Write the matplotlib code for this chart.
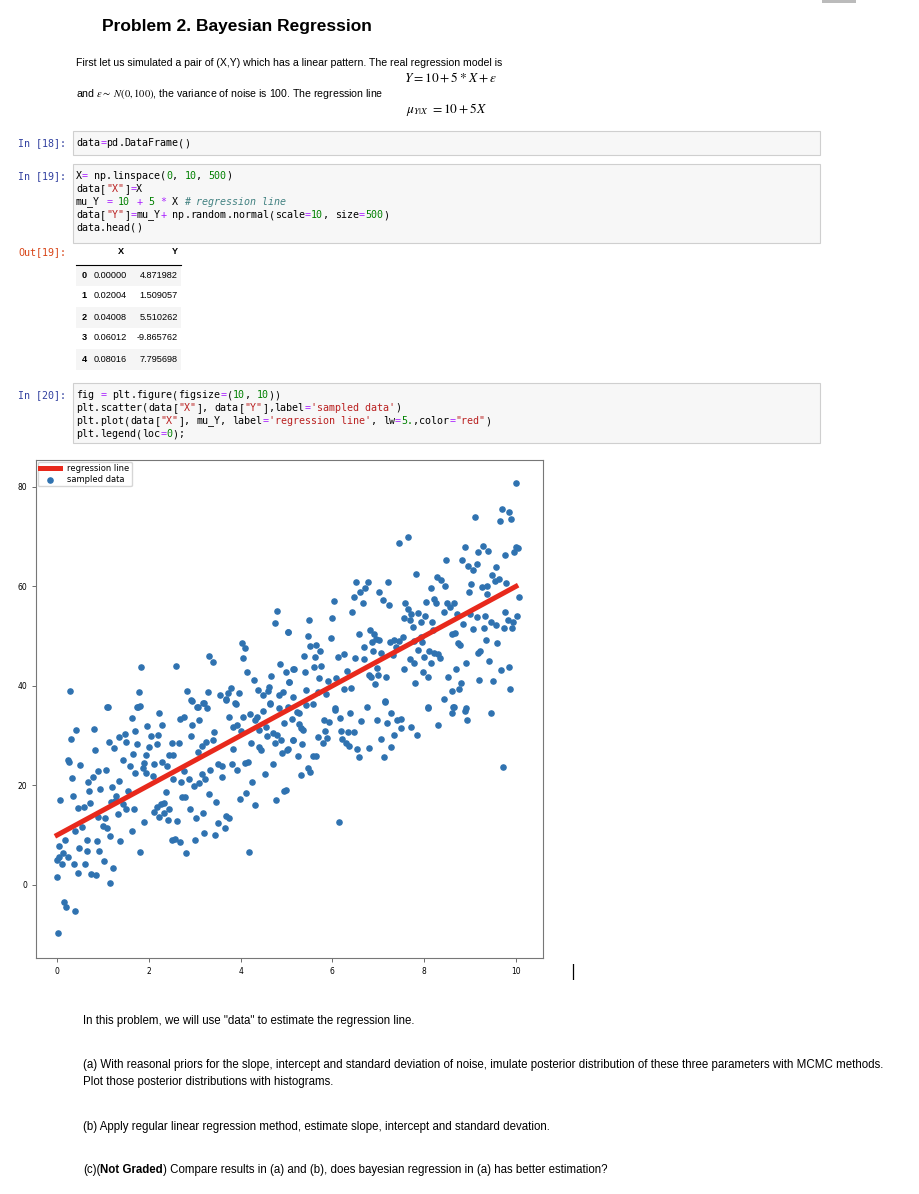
import re
import matplotlib
matplotlib.use('Agg')
import matplotlib.pyplot as plt
from matplotlib.patches import Rectangle

# scatter points (x, y)
pts_x = [0.02, 0.15, 0.2, 0.39, 0.0, 0.0, 0.05, 0.1, 0.05, 0.13, 0.24, 0.17, 0.37, 0.46, 0.61, 1.15, 1.22, 0.74, 0.85,
         1.02, 0.92, 0.65, 0.48, 0.65, 0.87, 1.15, 1.37, 1.8, 1.63, 0.39, 0.55, 0.07, 0.35, 0.46, 0.59, 0.33, 0.5, 0.24,
         0.26, 0.3, 0.41, 0.81, 0.83, 0.68, 0.7, 0.78, 0.89, 1.07, 0.94, 0.72, 0.89, 1.05, 1.0, 1.09, 1.33, 1.11, 1.13,
         1.24, 1.35, 1.48, 1.5, 1.44, 1.35, 1.2, 1.29, 1.18, 1.26, 1.44, 1.5, 1.68, 1.55, 1.59, 1.66, 1.7, 1.74, 1.63,
         1.74, 1.81, 1.96, 2.05, 2.2, 2.0, 2.18, 1.94, 1.9, 1.87, 1.94, 2.09, 1.7, 2.11, 2.22, 2.29, 2.29, 2.44, 2.53,
         2.4, 2.5, 2.66, 2.53, 2.37, 2.33, 2.27, 2.18, 2.11, 2.22, 1.9, 2.44, 2.33, 2.42, 2.61, 2.5, 2.57, 2.68, 2.81,
         2.72, 2.79, 2.7, 2.77, 2.88, 2.98, 2.9, 3.03, 3.01, 2.68, 2.77, 2.92, 2.94, 3.07, 3.09, 2.92, 3.07, 3.2, 3.27,
         3.16, 3.25, 3.09, 3.22, 3.16, 3.33, 3.31, 3.42, 3.4, 3.51, 3.59, 3.59, 3.46, 3.18, 3.2, 3.44, 3.51, 3.66, 3.68,
         3.75, 3.68, 3.75, 3.9, 3.83, 3.92, 3.83, 3.81, 3.92, 3.99, 4.12, 4.1, 4.16, 4.25, 4.31, 4.18, 4.05, 4.2, 4.36,
         4.01, 4.23, 4.4, 4.44, 4.4, 4.55, 4.58, 4.71, 4.79, 4.75, 4.88, 4.71, 4.53, 4.77, 4.95, 4.9, 5.01, 4.95, 5.14,
         4.64, 4.84, 5.03, 4.49, 4.31,
         6.06, 6.17, 6.38, 6.19, 6.34, 6.47, 6.21, 6.3, 6.36, 6.54, 6.58, 6.8, 6.62, 6.75, 6.97, 7.19, 7.15, 7.28, 7.41,
         7.49, 7.49, 7.34, 7.06, 7.28, 7.12, 7.71, 7.84, 8.08, 8.3, 8.61, 8.65, 8.89, 8.93, 9.46, 9.72, 6.14, 5.82, 5.93,
         5.84, 5.69, 5.88, 5.8, 5.58, 5.64, 5.47, 5.51, 5.32, 5.25, 5.34, 5.14, 5.03, 5.27, 5.32, 5.36, 5.12, 5.23, 5.27,
         4.99, 5.58, 5.42,
         10.0, 9.69, 9.85, 9.89, 9.65, 9.11, 7.45, 7.65, 8.89, 9.28, 9.39, 9.17, 10.0, 10.04, 9.96, 9.76, 8.47, 8.82,
         8.95, 9.15, 9.06, 9.56, 7.82, 9.48, 9.63, 9.54, 8.28, 8.37, 8.45, 9.02, 9.26, 9.37, 9.78, 8.98, 9.37, 10.07,
         8.15, 6.51, 6.78, 6.71, 6.6, 6.47, 6.67, 6.43, 6.03, 5.99, 5.49, 5.03, 7.02, 7.1, 7.23, 7.21, 7.58, 7.65, 7.71,
         7.56, 7.69, 7.86, 8.02, 8.04, 8.21, 8.26, 8.5, 8.56, 8.65, 8.43, 8.71, 9.0, 9.15, 9.32, 9.76, 10.02, 9.83, 9.93,
         9.74, 9.91, 9.46, 9.56, 8.85, 9.06, 9.3, 7.93, 8.17, 7.76, 8.19, 8.67, 7.93, 7.95, 7.86, 7.54, 6.58, 6.91, 6.95,
         6.86, 7.02, 6.82, 6.69, 6.88, 7.06, 6.49, 6.69, 7.25, 7.34, 7.45, 7.38, 7.32, 7.78, 8.1, 8.21, 8.3, 8.34, 7.99,
         8.15, 7.69, 7.78, 7.56, 7.97, 8.08, 7.8, 7.17, 6.97, 6.99, 6.8, 6.84, 6.93, 6.25, 6.12, 6.32, 6.25, 6.4, 6.08,
         5.9, 5.71, 5.6, 5.75, 5.38, 5.51, 5.64, 5.73, 5.62, 5.47, 5.4, 5.16, 5.05, 5.42, 5.69, 5.86, 5.97, 8.91, 8.74,
         8.78, 9.17, 9.22, 9.41, 8.61, 8.52, 8.69, 8.8, 8.76, 8.61, 9.19, 9.5, 9.67, 9.85, 9.87, 9.35, 9.59, 8.43, 8.08,
         7.15, 8.63, 8.91, 5.14, 6.06,
         4.79, 4.75, 5.03, 4.03, 4.1, 4.05, 3.31, 3.4, 1.83, 2.59, 4.86, 5.14, 4.99, 4.14, 4.66, 4.29, 5.05, 4.38, 4.49,
         4.6, 4.62, 4.84, 4.92, 0.28, 1.79, 2.83, 3.29, 3.55, 3.73, 3.79, 3.97, 2.94, 3.18, 3.68, 3.88, 1.09, 1.76, 3.05,
         4.64]
pts_y = [-9.7, -3.4, -4.4, -5.2, 1.6, 4.9, 5.6, 4.2, 7.8, 6.4, 5.6, 9.0, 4.2, 2.4, 4.2, 0.4, 3.4, 2.2, 2.0,
         4.8, 6.8, 6.8, 7.4, 9.0, 8.8, 9.8, 8.8, 6.6, 10.9, 10.9, 11.7, 17.1, 17.9, 15.5, 15.7, 21.5, 24.1, 25.1,
         24.7, 29.3, 31.2, 31.4, 27.1, 20.7, 18.9, 21.7, 22.9, 23.1, 19.3, 16.5, 13.7, 13.5, 11.9, 11.5, 14.3, 35.8, 28.7,
         27.5, 29.7, 30.4, 28.7, 25.1, 20.9, 19.7, 17.9, 16.7, 16.9, 16.3, 15.3, 15.3, 18.9, 23.9, 26.3, 31.0, 28.3, 33.6,
         35.8, 36.0, 32.0, 29.9, 30.2, 27.7, 28.3, 26.1, 24.5, 23.5, 22.5, 21.9, 22.5, 24.3, 34.6, 32.2, 24.7, 26.1, 26.1,
         23.9, 28.5, 28.5, 21.3, 18.7, 16.5, 16.3, 15.7, 14.7, 13.7, 12.7, 15.3, 14.5, 13.1, 12.9, 9.0, 9.2, 8.6, 6.4,
         17.7, 17.7, 20.7, 22.9, 21.3, 19.9, 15.3, 13.5, 9.0, 33.4, 33.8, 29.9, 32.2, 26.7, 33.2, 37.2, 35.8, 36.6, 35.6,
         27.9, 28.7, 20.5, 21.3, 22.3, 23.1, 18.3, 30.8, 29.1, 24.3, 23.9, 21.7, 16.7, 14.5, 10.5, 10.1, 12.5, 11.5, 13.9,
         13.5, 37.2, 33.8, 36.4, 31.8, 32.2, 27.3, 24.3, 23.1, 17.3, 18.5, 24.5, 24.7, 20.7, 16.1, 6.6, 33.8, 34.4, 33.8,
         31.0, 28.5, 27.7, 27.1, 31.2, 31.8, 29.9, 30.6, 30.2, 28.5, 29.1, 24.3, 22.3, 17.1, 18.9, 26.5, 27.1, 32.6, 29.1,
         36.4, 35.6, 35.8, 35.0, 33.2,
         35.2, 33.6, 34.6, 31.0, 30.8, 30.8, 29.3, 28.5, 27.9, 27.3, 25.7, 27.5, 33.0, 35.8, 33.2, 32.6, 36.8, 34.6, 33.2,
         33.4, 31.6, 30.2, 29.3, 27.7, 25.7, 31.8, 30.2, 35.6, 32.2, 34.6, 35.8, 35.0, 33.2, 34.6, 23.7, 12.7, 33.2, 32.8,
         31.0, 29.7, 29.5, 28.5, 25.9, 25.9, 23.5, 22.7, 22.1, 25.9, 28.3, 29.1, 27.3, 32.4, 31.6, 31.2, 33.4, 34.8, 34.6,
         19.1, 36.4, 36.2,
         80.8, 75.6, 75.0, 73.6, 73.2, 74.0, 68.7, 69.9, 67.9, 68.1, 67.1, 66.9, 67.9, 67.7, 66.9, 66.3, 65.3, 65.3,
         64.1, 64.5, 63.3, 63.9, 62.5, 62.3, 61.5, 61.1, 61.9, 61.3, 60.1, 60.5, 59.9, 60.1, 60.7, 58.9, 58.5, 57.9,
         59.7, 60.9, 60.9, 59.7, 58.9, 57.9, 56.7, 54.9, 57.1, 53.7, 53.3, 50.9, 58.9, 57.3, 56.3, 60.9, 56.7, 55.5, 54.5,
         53.7, 53.3, 54.7, 54.1, 56.9, 57.5, 56.7, 56.7, 55.9, 56.7, 54.9, 54.5, 54.5, 53.9, 54.1, 54.9, 54.1, 53.3, 52.9,
         51.7, 51.7, 52.9, 52.3, 52.5, 51.5, 51.7, 52.9, 52.9, 51.9, 51.3, 50.7, 49.8, 48.8, 47.2, 49.8, 50.5, 50.5, 49.4,
         48.8, 49.2, 51.3, 47.8, 47.0, 46.6, 45.6, 45.4, 48.8, 49.2, 49.0, 47.8, 46.2, 49.0, 47.0, 46.6, 46.4, 45.6, 45.8,
         44.6, 45.4, 44.6, 43.4, 42.8, 41.8, 40.6, 41.8, 43.6, 42.2, 42.2, 41.8, 40.4, 46.4, 45.8, 43.0, 39.4, 39.6, 41.6,
         41.0, 41.6, 43.8, 44.0, 46.0, 48.0, 48.2, 47.0, 45.8, 50.0, 42.8, 43.4, 40.8, 39.2, 38.8, 38.4, 49.6, 44.6, 48.6,
         48.2, 46.6, 47.0, 45.0, 50.5, 41.8, 43.4, 40.6, 39.4, 39.0, 41.2, 41.0, 43.2, 43.8, 39.4, 49.2, 48.6, 37.4, 35.8,
         37.0, 35.8, 35.6, 37.8, 35.6,
         55.1, 52.7, 50.9, 48.6, 47.6, 45.6, 46.0, 44.8, 43.8, 44.0, 44.4, 43.4, 42.8, 42.8, 42.0, 41.2, 40.8, 39.2, 38.2,
         39.0, 39.8, 38.2, 38.8, 39.0, 38.8, 39.0, 38.8, 38.2, 38.6, 39.6, 38.6, 37.0, 36.6, 37.4, 36.6, 35.8, 35.8, 35.8,
         36.6]
line_x = [0, 10]
line_y = [10, 60]
x_ticks = [0, 2, 4, 6, 8, 10]
y_ticks = [0, 20, 40, 60, 80]

table_idx = ['0', '1', '2', '3', '4']
table_X = ['0.00000', '0.02004', '0.04008', '0.06012', '0.08016']
table_Y = ['4.871982', '1.509057', '5.510262', '-9.865762', '7.795698']

code18 = ['data=pd.DataFrame()']
code19 = ['X= np.linspace(0, 10, 500)',
          'data["X"]=X',
          'mu_Y = 10 + 5 * X # regression line',
          'data["Y"]=mu_Y+ np.random.normal(scale=10, size=500)',
          'data.head()']
code20 = ['fig = plt.figure(figsize=(10, 10))',
          'plt.scatter(data["X"], data["Y"],label=\'sampled data\')',
          'plt.plot(data["X"], mu_Y, label=\'regression line\', lw=5.,color="red")',
          'plt.legend(loc=0);']

W, H = 920, 1194
fig = plt.figure(figsize=(W / 100, H / 100), dpi=100)
fig.patch.set_facecolor('white')


def T(x, y, s, **kw):
    kw.setdefault('va', 'center')
    return fig.text(x / W, 1 - y / H, s, **kw)


def box(x0, y0, x1, y1, fc='#f7f7f7', ec='#cfcfcf'):
    fig.patches.append(Rectangle((x0 / W, 1 - y1 / H), (x1 - x0) / W, (y1 - y0) / H,
                                 transform=fig.transFigure, fc=fc, ec=ec, lw=0.8))


MONO = 7.2
CW = 0.602 * MONO / 0.72  # px per char
tok_re = re.compile(r"(#.*$)|(\"[^\"]*\"|'[^']*')|(\b\d+\.?\d*)|([=+*])|(\w+|.)")


def code_line(x, y, line):
    col = 0
    for m in tok_re.finditer(line):
        s = m.group(0)
        kw = dict(family='DejaVu Sans Mono', size=MONO, color='black')
        if m.group(1):
            kw.update(color='#408080', style='italic')
        elif m.group(2):
            kw.update(color='#BA2121')
        elif m.group(3):
            kw.update(color='#008000')
        elif m.group(4):
            kw.update(color='#AA22FF')
        if s.strip():
            T(x + col * CW, y, s, **kw)
        col += len(s)


def cell(prompt, y0, y1, lines):
    box(73, y0, 820, y1)
    T(18, y0 + 12, prompt, family='DejaVu Sans Mono', size=MONO, color='#303F9F')
    for i, ln in enumerate(lines):
        code_line(76, y0 + 12 + 13 * i, ln)


# header text
T(102, 27, 'Problem 2. Bayesian Regression', size=12.5, weight='bold', family='Liberation Sans')
T(76, 63, 'First let us simulated a pair of (X,Y) which has a linear pattern. The real regression model is',
  size=7.6, family='Liberation Sans')
T(497, 78, r'$Y=10+5*X+\epsilon$', size=9.6, ha='right', math_fontfamily='stix')
T(76, 94, r'and $\epsilon\sim\ N(0,100)$, the variance of noise is 100. The regression line',
  size=7.6, family='Liberation Sans', math_fontfamily='stix')
T(487, 110, r'$\mu_{Y|X}\ =10+5X$', size=9.6, ha='right', math_fontfamily='stix')

cell('In [18]:', 131, 155, code18)
cell('In [19]:', 164, 243, code19)

# output table
TS = 6.6
T(18, 252, 'Out[19]:', family='DejaVu Sans Mono', size=MONO, color='#D84315')
T(121, 252, 'X', size=TS, weight='bold', ha='center', family='Liberation Sans')
T(178, 252, 'Y', size=TS, weight='bold', ha='right', family='Liberation Sans')
fig.add_artist(plt.Line2D([76 / W, 181 / W], [1 - 265 / H] * 2, color='black', lw=0.8))
for i in range(5):
    yy = 275 + 21 * i
    if i % 2 == 0:
        box(76, yy - 10.5, 181, yy + 10.5, fc='#f5f5f5', ec='none')
    T(84, yy, table_idx[i], size=TS, weight='bold', ha='center', family='Liberation Sans')
    T(127, yy, table_X[i], size=TS, ha='right', family='Liberation Sans')
    T(178, yy, table_Y[i], size=TS, ha='right', family='Liberation Sans')

cell('In [20]:', 383, 443, code20)

# plot
ax = fig.add_axes([36 / W, 1 - 958 / H, 507 / W, 498 / H])
ax.plot(line_x, line_y, color='#e8291c', lw=3.6, label='regression line', zorder=3)
ax.scatter(pts_x, pts_y, s=14, color='#2f72b0', label='sampled data', zorder=2)
ax.set_xlim(-0.46, 10.59)
ax.set_ylim(-14.7, 85.4)
ax.set_xticks(x_ticks)
ax.set_yticks(y_ticks)
ax.tick_params(labelsize=5.5, length=3, width=0.6, color='#555555')
for sp in ax.spines.values():
    sp.set_color('#777777')
ax.legend(loc=0, fontsize=6, borderpad=0.3, handlelength=2.4, labelspacing=0.2, borderaxespad=0.2)

T(570, 972, '|', size=11, family='DejaVu Sans')
box(822, -2, 856, 3, fc='#bbbbbb', ec='none')

# bottom text
bt = dict(size=8.3, family='Liberation Sans')
T(83, 1021, 'In this problem, we will use "data" to estimate the regression line.', **bt)
T(83, 1065, '(a) With reasonal priors for the slope, intercept and standard deviation of noise, imulate posterior '
  'distribution of these three parameters with MCMC methods.', **bt)
T(83, 1082, 'Plot those posterior distributions with histograms.', **bt)
T(83, 1127, '(b) Apply regular linear regression method, estimate slope, intercept and standard devation.', **bt)
r = fig.canvas.get_renderer()
t1 = T(83, 1170, '(c)(', **bt)
w1 = t1.get_window_extent(r).width
t2 = T(83 + w1, 1170, 'Not Graded', weight='bold', **bt)
w2 = t2.get_window_extent(r).width
T(83 + w1 + w2, 1170, ') Compare results in (a) and (b), does bayesian regression in (a) has better estimation?', **bt)

fig.savefig('out.png', dpi=100)
